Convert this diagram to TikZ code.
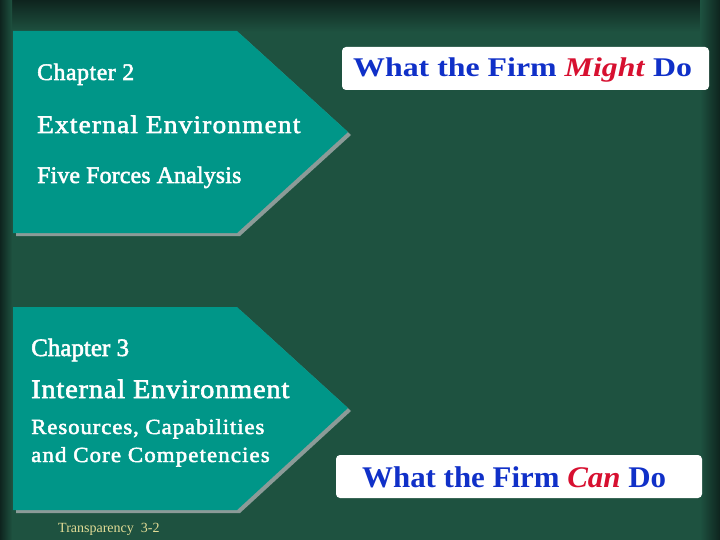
\documentclass[tikz,border=0pt]{standalone}
\usepackage{fontspec}
\setmainfont{Liberation Serif}
\newfontfamily\lfont[FakeBold=2.2]{Liberation Serif}
\definecolor{bgmain}{RGB}{30,82,64}
\definecolor{bgdark}{RGB}{14,36,30}
\definecolor{teal}{RGB}{0,150,136}
\definecolor{shadowgray}{RGB}{140,155,152}
\definecolor{firmblue}{RGB}{16,48,200}
\definecolor{firmred}{RGB}{215,16,48}
\definecolor{transp}{RGB}{226,220,150}
\tikzset{
  lbl/.style={anchor=base west, inner sep=0pt, text=white, font=\lfont},
  firmbox/.style={fill=white, rounded corners=4pt},
  firmtext/.style={anchor=base west, inner sep=0pt, text=firmblue, font=\bfseries},
}
\newcommand{\fs}[1]{\fontsize{#1}{#1}\selectfont}
\newcommand{\ls}[1]{\addfontfeature{LetterSpace=#1}}
\begin{document}
\begin{tikzpicture}[x=1pt,y=-1pt]
\useasboundingbox (0,0) rectangle (720,540);
% background
\fill[bgmain] (0,0) rectangle (720,540);
\shade[top color=bgdark, bottom color=bgmain] (0,0) rectangle (720,32);
\shade[left color=bgdark, right color=bgmain] (0,0) rectangle (12,540);
\shade[left color=bgmain, right color=bgdark] (700,0) rectangle (720,540);
% pentagon 1
\fill[shadowgray] (16,34) -- (240,34) -- (351,135) -- (240,236) -- (16,236) -- cycle;
\fill[teal] (13,31) -- (237,31) -- (348,132) -- (237,233) -- (13,233) -- cycle;
% pentagon 2
\fill[shadowgray] (16,310) -- (240,310) -- (351,411) -- (240,513) -- (16,513) -- cycle;
\fill[teal] (13,307) -- (237,307) -- (348,408) -- (237,510) -- (13,510) -- cycle;
% texts chapter 2
\node[lbl] (ch2) at (37,80) {\fs{23.7}\ls{2.5}Chapter 2};
\node[lbl] (ext) at (37,133) {\fs{25.2}\scalebox{1.08}[1]{\ls{4.5}External Environment}};
\node[lbl] (five) at (37,183) {\fs{23.7}\ls{1}Five Forces Analysis};
% texts chapter 3
\node[lbl] (ch3) at (31,356) {\fs{25}Chapter 3};
\node[lbl] (int) at (31,398) {\fs{26.7}\scalebox{1.06}[1]{\ls{3}Internal Environment}};
\node[lbl] (res) at (31,434) {\fs{21.6}\scalebox{1.06}[1]{\ls{3.8}Resources, Capabilities}};
\node[lbl] (core) at (31,462) {\fs{21.6}\scalebox{1.06}[1]{\ls{4.8}and Core Competencies}};
\node[anchor=base west, inner sep=0pt, text=transp] (tr) at (58,532) {\fs{14}Transparency\ \ 3-2};
% right boxes
\fill[firmbox] (342,47) rectangle (709,90);
\node[firmtext] (might) at (353,77) {\fs{27}\scalebox{1.18}[1]{What the Firm \textcolor{firmred}{\textit{Might}} Do}};
\fill[firmbox] (336,455) rectangle (702,498);
\node[firmtext] (can) at (362,487) {\fs{30}\scalebox{1.03}[1]{What the Firm \textcolor{firmred}{\textit{Can}} Do}};
\end{tikzpicture}
\end{document}
